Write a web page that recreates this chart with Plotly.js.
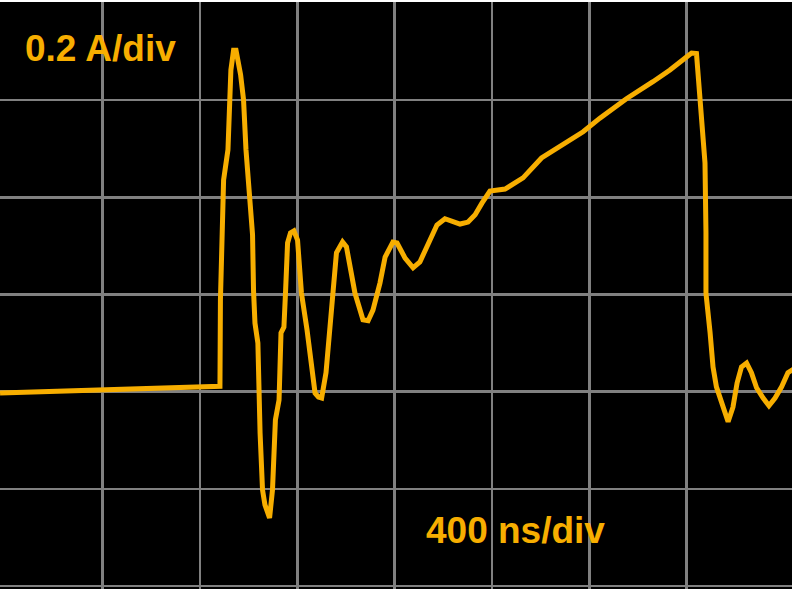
<!DOCTYPE html>
<html>
<head>
<meta charset="utf-8">
<script src="https://cdn.plot.ly/plotly-3.0.1.min.js"></script>
<style>
html,body{margin:0;padding:0;background:#fff;}
#chart{width:800px;height:589px;}
</style>
</head>
<body>
<div id="chart"></div>
<script>
// time in ns (400 ns/div), current in A (0.2 A/div)
const timeNs = [-822, 70, 82, 84, 90, 97, 115, 123, 127, 138, 148, 167, 179, 189, 204, 216, 220, 226, 238, 241,
  247, 257, 267, 286, 298, 310, 325, 333, 345, 352, 360, 372, 386, 401, 417, 440, 473, 487, 500, 518,
  534, 561, 586, 602, 637, 670, 691, 711, 740, 761, 793, 810, 843, 876, 904, 946, 974, 1007, 1069, 1102,
  1131, 1159, 1192, 1254, 1328, 1404, 1507, 1575, 1644, 1753, 1862, 1932, 2000, 2021, 2041, 2056, 2068, 2076, 2080, 2080,
  2097, 2109, 2123, 2144, 2171, 2191, 2208, 2226, 2247, 2267, 2288, 2315, 2339, 2364, 2391, 2417, 2436, 2458];
const currentA = [-0.003, 0.011, 0.011, 0.189, 0.271, 0.436, 0.498, 0.601, 0.662, 0.703, 0.703, 0.652, 0.601, 0.498, 0.401, 0.323, 0.209, 0.141, 0.100, 0.010,
  -0.085, -0.202, -0.233, -0.260, -0.202, -0.058, -0.017, 0.121, 0.133, 0.209, 0.306, 0.327, 0.331, 0.312, 0.203, 0.127, -0.003, -0.011, -0.013, 0.039,
  0.141, 0.286, 0.308, 0.298, 0.203, 0.148, 0.146, 0.168, 0.224, 0.277, 0.308, 0.306, 0.275, 0.255, 0.267, 0.312, 0.343, 0.356, 0.345, 0.349,
  0.364, 0.388, 0.413, 0.417, 0.440, 0.481, 0.512, 0.535, 0.563, 0.603, 0.638, 0.662, 0.689, 0.697, 0.696, 0.607, 0.512, 0.471, 0.327, 0.203,
  0.121, 0.051, 0.010, -0.023, -0.062, -0.032, 0.018, 0.051, 0.059, 0.039, 0.008, -0.013, -0.029, -0.013, 0.010, 0.039, 0.045, 0.045];
const xGridTicks = [-400, 0, 400, 800, 1200, 1600, 2000];
const yGridTicks = [-0.4, -0.2, 0, 0.2, 0.4, 0.6, 0.8];
const labelCurrent = "0.2 A/div";
const labelTime = "400 ns/div";

const trace = {
  x: timeNs, y: currentA, type: 'scatter', mode: 'lines',
  line: {color: '#F7AE00', width: 5},
  hoverinfo: 'skip'
};
const layout = {
  width: 800, height: 589,
  margin: {l: 0, r: 8, t: 2, b: 0, pad: 0},
  paper_bgcolor: '#ffffff',
  plot_bgcolor: '#000000',
  showlegend: false,
  xaxis: {range: [-822.2, 2433.7], tickmode: 'array', tickvals: xGridTicks, showticklabels: false,
    ticks: '', showline: false, zeroline: false, showgrid: true, gridcolor: '#808080', gridwidth: 2.6, fixedrange: true},
  yaxis: {range: [-0.40618, 0.80206], tickmode: 'array', tickvals: yGridTicks, showticklabels: false,
    ticks: '', showline: false, zeroline: false, showgrid: true, gridcolor: '#808080', gridwidth: 2.6, fixedrange: true},
  annotations: [
    {text: labelCurrent, xref: 'paper', yref: 'paper', x: 0.029, y: 0.920, xanchor: 'left', yanchor: 'middle',
     showarrow: false, font: {family: 'Liberation Sans, Arial, sans-serif', size: 37, weight: 'bold', color: '#F7AE00'}},
    {text: labelTime, xref: 'paper', yref: 'paper', x: 0.5354, y: 0.1005, xanchor: 'left', yanchor: 'middle',
     showarrow: false, font: {family: 'Liberation Sans, Arial, sans-serif', size: 37, weight: 'bold', color: '#F7AE00'}}
  ]
};
Plotly.newPlot('chart', [trace], layout, {staticPlot: true, displayModeBar: false});
</script>
</body>
</html>
